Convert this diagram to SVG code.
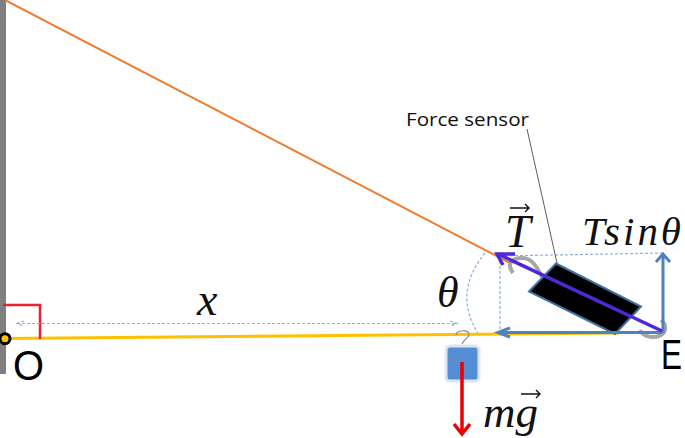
<svg xmlns="http://www.w3.org/2000/svg" width="685" height="438" viewBox="0 0 685 438">
<style>
.m{font-family:"Liberation Serif","Times New Roman",serif;font-style:italic;fill:#111}
.s{font-family:"Liberation Sans",Arial,sans-serif;fill:#000}
.f{font-family:"Open Sans","Noto Sans",sans-serif;fill:#111}
.d{fill:none;stroke:#8fb0dc;stroke-width:1.200;stroke-dasharray:3 2}
.b{fill:none;stroke:#4f81bd;stroke-width:3}
.g{fill:none;stroke:#a6a6a6;stroke-width:4}
.v{fill:none;stroke:#111;stroke-width:1.400}
</style>
<rect width="685" height="438" fill="#fff"/>
<g id="wall"><rect x="0" y="0" width="6" height="374" fill="#7f7f7f"/></g>
<g id="connectors">
<line x1="5" y1="0" x2="510" y2="263" stroke="#ed7d31" stroke-width="2"/>
<line x1="5" y1="338.500" x2="620" y2="333" stroke="#ffc000" stroke-width="2.800"/>
<path d="M3 305H40V339" fill="none" stroke="#ee2030" stroke-width="2.500"/>
<path class="d" d="M17 323.500H457M24 321l-7 2.500 7 2.500M450 321l7 2.500-7 2.500"/>
<path class="d" d="M485 253Q452.500 293 478 333"/>
<path class="d" d="M500 256V333M500 256L663 253"/>
<line x1="557" y1="263" x2="527" y2="129" stroke="#333" stroke-width="0.800"/>
</g>
<g id="sensor"><polygon points="556,263.500 641,306.500 615,334 529,291.500" fill="#000" stroke="#41719c" stroke-width="2"/></g>
<g id="angle-marks">
<path class="g" d="M513 273C507 265 510 259 520 258C530 257 535 263 542 277"/>
<path class="g" d="M640 330C643 337 655 339 661 335C667 331 666 324 661 320"/>
<path d="M456 335C456 330 469 329 469 334C469 338 463 340 462 344" fill="none" stroke="#8c8c8c" stroke-width="1.200"/>
</g>
<g id="force-arrows">
<path class="b" d="M662 332.500H499" stroke-width="2.500"/>
<path class="b" d="M510 328l-12 4.500 12 4.500" stroke-width="2.500"/>
<path class="b" d="M663 333V254M656 262l7-8 7 8"/>
<path d="M662 331L498 254M515 254H497L503 265" fill="none" stroke="#5028d8" stroke-width="3.500"/>
</g>
<g id="mass">
<rect x="446" y="346" width="33" height="35" rx="4" fill="#558ed5" stroke="#dbe5f4" stroke-width="3"/>
<path d="M462 362V434M454 424l8 10 8-10" fill="none" stroke="#ee0000" stroke-width="3.500"/>
</g>
<g id="pivot"><circle cx="5" cy="338.700" r="5" fill="#ffc000" stroke="#000" stroke-width="3"/></g>
<g id="labels">
<text class="s" x="13" y="380" font-size="42" textLength="31" lengthAdjust="spacingAndGlyphs">O</text>
<text class="s" transform="translate(661 369) scale(0.75 1)" font-size="42">E</text>
<text class="f" x="406" y="126" font-size="17.500" textLength="123" lengthAdjust="spacingAndGlyphs">Force sensor</text>
<text class="m" x="197" y="315" font-size="46">x</text>
<text class="m" x="437" y="307" font-size="44">θ</text>
<text class="m" x="505" y="247" font-size="46">T</text>
<path class="v" d="M510 208H529M525 204l4 4-4 4"/>
<text class="m" x="582" y="245" font-size="41" textLength="99" lengthAdjust="spacing">Tsinθ</text>
<text class="m" x="483" y="427" font-size="44" textLength="55" lengthAdjust="spacingAndGlyphs">mg</text>
<path class="v" d="M521 394H540M536 390l4 4-4 4"/>
</g>
</svg>
